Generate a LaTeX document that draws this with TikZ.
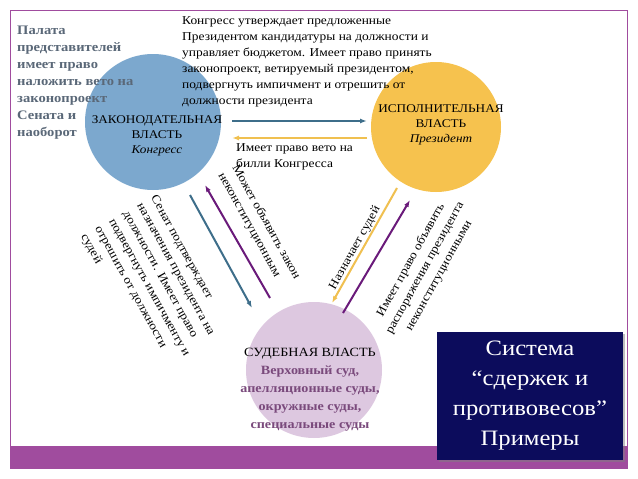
\documentclass[tikz,border=0pt]{standalone}
\usepackage{fontspec}
\setmainfont[FakeStretch=1.12]{Liberation Serif}
\usetikzlibrary{arrows.meta,shadows}
\definecolor{cblue}{HTML}{7CA8CE}
\definecolor{cyel}{HTML}{F6C24E}
\definecolor{clil}{HTML}{DDC8E0}
\definecolor{navy}{HTML}{0C0C5C}
\definecolor{pbar}{HTML}{A04C9E}
\definecolor{ablue}{HTML}{3E6E8A}
\definecolor{aviol}{HTML}{6A1A7A}
\definecolor{ayel}{HTML}{F0C050}
\definecolor{greyt}{HTML}{5A6878}
\definecolor{ptxt}{HTML}{7A4A7C}
\tikzset{
 circ/.style={circle,inner sep=0pt,minimum size=136pt},
 arr/.style={line width=2pt,-{Latex[length=7pt,width=5pt]}},
 rt/.style={font=\fontsize{12}{16}\selectfont,align=left,inner sep=0pt},
}
\begin{document}
\begin{tikzpicture}[x=1pt,y=-1pt]
\useasboundingbox (0,0) rectangle (638,479);
\fill[white] (0,0) rectangle (638,479);
\fill[pbar] (10,446) rectangle (627,468);
\draw[pbar,line width=1pt] (10,10) rectangle (627,468);
\node[circ,fill=cblue] (leg) at (153,122) {};
\node[circ,fill=cyel,minimum size=130pt] (exe) at (436,127) {};
\node[circ,fill=clil] (jud) at (314,370) {};
\node[align=center,font=\fontsize{11.8}{15}\selectfont] (legt) at (157,136) {ЗАКОНОДАТЕЛЬНАЯ\\ВЛАСТЬ\\\textit{Конгресс}};
\node[align=center,font=\fontsize{11.8}{15}\selectfont] (exet) at (441,125) {ИСПОЛНИТЕЛЬНАЯ\\ВЛАСТЬ\\\textit{Президент}};
\node[align=center,font=\fontsize{12.6}{18}\selectfont,text=ptxt] (judt) at (310,390) {\textcolor{black}{СУДЕБНАЯ ВЛАСТЬ}\\\textbf{Верховный суд,}\\\textbf{апелляционные суды,}\\\textbf{окружные суды,}\\\textbf{специальные суды}};
\node[anchor=north west,align=left,inner sep=0pt,font=\bfseries\fontsize{13}{17}\selectfont,text=greyt] (house) at (17,26) {Палата\\представителей\\имеет право\\наложить вето на\\законопроект\\Сената и\\наоборот};
\node[anchor=north west,align=left,inner sep=0pt,font=\fontsize{12}{16}\selectfont] (cong) at (182,16) {Конгресс утверждает предложенные\\Президентом кандидатуры на должности и\\управляет бюджетом. Имеет право принять\\законопроект, ветируемый президентом,\\подвергнуть импичмент и отрешить от\\должности президента};
\node[anchor=north west,align=left,inner sep=0pt,font=\fontsize{12}{16}\selectfont] (veto) at (236,143) {Имеет право вето на\\билли Конгресса};
\coordinate (a1) at (232,121); \coordinate (a2) at (367,121);
\coordinate (b1) at (367,138); \coordinate (b2) at (232,138);
\draw[arr,ablue] (a1) -- (a2);
\draw[arr,ayel] (b1) -- (b2);
\coordinate (c1) at (190,195); \coordinate (c2) at (252,308);
\coordinate (d1) at (270,298); \coordinate (d2) at (205,185);
\coordinate (e1) at (397,188); \coordinate (e2) at (332,303);
\coordinate (f1) at (343,313); \coordinate (f2) at (410,200);
\draw[arr,ablue] (c1) -- (c2);
\draw[arr,aviol] (d1) -- (d2);
\draw[arr,ayel] (e1) -- (e2);
\draw[arr,aviol] (f1) -- (f2);
\node[rt,rotate=-61] (sen) at (156,284) {Сенат подтверждает\\назначения президента на\\должности. Имеет право\\подвергнуть импичменту и\\отрешить от должности\\судей};
\node[rt,rotate=-61] (may) at (259,226) {Может объявить закон\\неконституционным};
\node[rt,rotate=61] (app) at (355,248) {Назначает судей};
\node[rt,rotate=61,align=center] (dec) at (425,268) {Имеет право объявить\\распоряжения президента\\неконституционными};
\node[fill=navy,text=white,align=center,minimum width=186pt,minimum height=128pt,inner sep=0pt,drop shadow={shadow xshift=2pt,shadow yshift=-2pt,opacity=0.5},font=\fontsize{22}{30}\selectfont] (title) at (530,396) {Система\\“сдержек и\\противовесов”\\Примеры};
\end{tikzpicture}
\end{document}
